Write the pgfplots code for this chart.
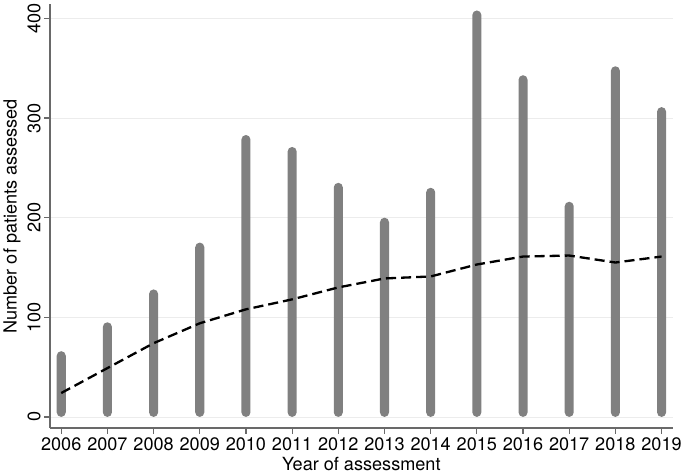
\documentclass[border=0pt]{standalone}
\usepackage{fontspec}
\setmainfont{TeX Gyre Heros}
\usepackage{pgfplots}
\pgfplotsset{compat=1.18}
\definecolor{bargray}{RGB}{128,128,128}
\definecolor{axisgray}{RGB}{105,105,105}
\definecolor{gridgray}{RGB}{236,236,236}
\begin{document}
\begin{tikzpicture}[font=\fontsize{18}{21}\selectfont]
\begin{axis}[
  scale only axis, width=619pt, height=421pt,
  xmin=2005.76, xmax=2019.24, ymin=-11, ymax=414,
  axis lines*=left,
  axis line style={-, draw=axisgray, line width=1.4pt},
  tick align=outside, major tick length=6pt,
  tick style={axisgray, line width=1.2pt},
  xtick={2006,...,2019}, ytick={0,100,...,400},
  /pgf/number format/assume math mode=true,
  /pgf/number format/1000 sep={},
  ymajorgrids, grid style={gridgray, line width=0.8pt},
  yticklabel style={rotate=90, anchor=south},
  xlabel={Year of assessment},
  ylabel={Number of patients assessed},
]
\addplot[ybar, bar width=9pt, fill=bargray, draw=none, rounded corners=4.5pt] coordinates {
(2006,66) (2007,95) (2008,128) (2009,175) (2010,283) (2011,271) (2012,235)
(2013,200) (2014,230) (2015,408) (2016,343) (2017,216) (2018,352) (2019,311)};
\addplot[black, line width=2.3pt, dash pattern=on 10pt off 5pt] coordinates {
(2006,24) (2007,49) (2008,74) (2009,94) (2010,108) (2011,118) (2012,130)
(2013,139) (2014,141) (2015,153) (2016,161) (2017,162) (2018,155) (2019,161)};
\end{axis}
\end{tikzpicture}
\end{document}
